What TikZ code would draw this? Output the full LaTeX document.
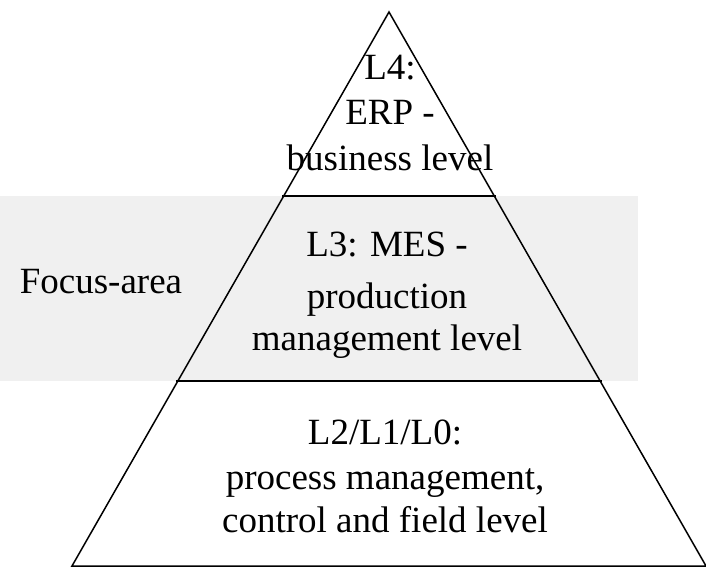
\documentclass[tikz,border=0pt]{standalone}
\usepackage{fontspec}
\setmainfont{Liberation Serif}
\begin{document}
\begin{tikzpicture}[x=1pt,y=1pt,
  txt/.style={font=\fontsize{37}{40}\selectfont, inner sep=0pt, anchor=center},
  edge/.style={draw=black, line width=1.5pt, line join=miter}]
\useasboundingbox (0,0) rectangle (706,576);
\fill[gray!12] (0,195) rectangle (638,380);
\coordinate (apex) at (389,564);
\coordinate (bl) at (72,10);
\coordinate (br) at (706,10);
\draw[edge] (apex) -- (bl) -- (br) -- cycle;
\draw[edge] (282.2,380) -- (495.8,380);
\draw[edge] (176.4,195) -- (601.6,195);
\node[txt] (l4a) at (390,508) {L4:};
\node[txt] (l4b) at (390,464) {ERP -};
\node[txt] (l4c) at (390,418) {business level};
\node[txt] (l3a) at (387,331) {L3: MES -};
\node[txt] (l3b) at (387,276) {production};
\node[txt] (l3c) at (387,234) {management level};
\node[txt] (l2a) at (385,144) {L2/L1/L0:};
\node[txt] (l2b) at (385,93) {process management,};
\node[txt] (l2c) at (385,56) {control and field level};
\node[txt] (focus) at (101,294) {Focus-area};
\end{tikzpicture}
\end{document}
